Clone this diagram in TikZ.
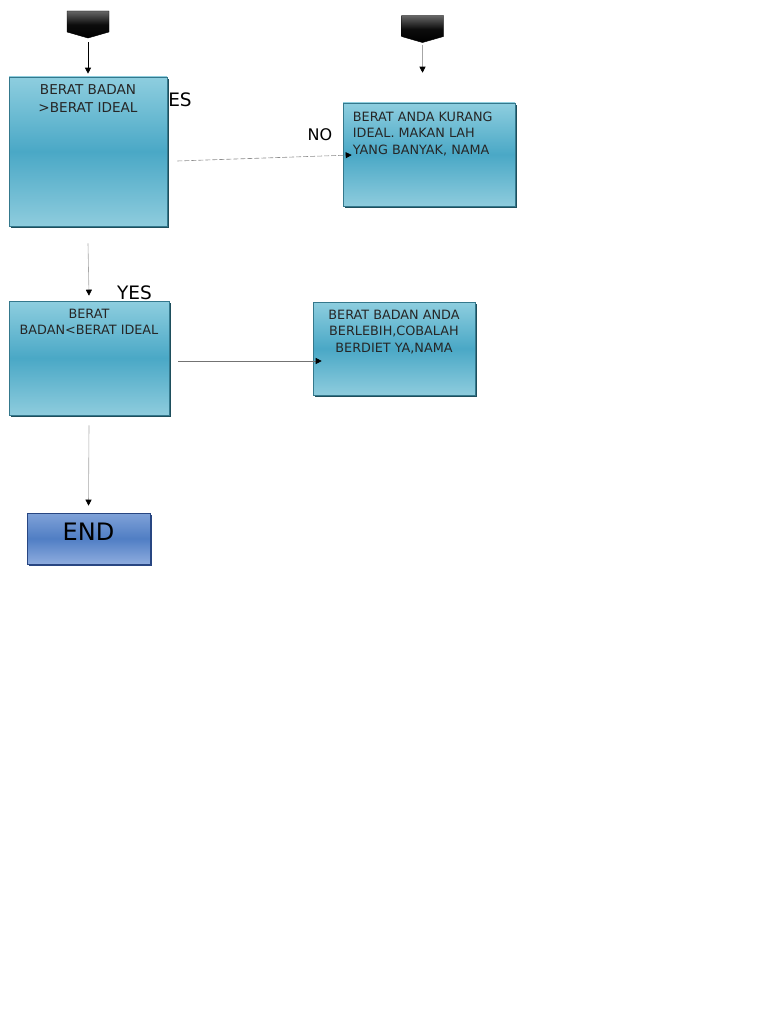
\documentclass[tikz,border=0pt]{standalone}
\usepackage{fontspec}
\setmainfont{DejaVu Sans}
\usetikzlibrary{arrows.meta, positioning, shadows, shapes.symbols}

\definecolor{boxtop}{RGB}{142,206,223}
\definecolor{boxmid}{RGB}{74,168,198}
\definecolor{boxbot}{RGB}{142,204,221}
\definecolor{boxline}{RGB}{52,120,140}
\definecolor{boxshade}{RGB}{30,78,92}
\definecolor{endtop}{RGB}{128,162,216}
\definecolor{endmid}{RGB}{80,126,196}
\definecolor{endbot}{RGB}{142,172,222}
\definecolor{endline}{RGB}{40,70,130}

\tikzset{
	flowbox/.style={draw=boxline, line width=0.6pt, inner sep=0pt,
		top color=boxtop, bottom color=boxbot, middle color=boxmid,
		drop shadow={shadow xshift=1.8pt, shadow yshift=-1.8pt, opacity=1, fill=boxshade}},
	endbox/.style={flowbox, draw=endline, top color=endtop, bottom color=endbot, middle color=endmid,
		drop shadow={shadow xshift=1.8pt, shadow yshift=-1.8pt, opacity=1, fill=endline}},
	offpage/.style={shape=signal, signal to=south, signal pointer angle=148, draw=black, line width=0.4pt,
		top color=black!60, bottom color=black, middle color=black!95,
		minimum width=42pt, minimum height=21pt, inner sep=0pt},
	boxtext/.style={inner sep=0pt, align=center, font=\fontsize{12.8}{16.5}\selectfont, text=black!85},
	lbl/.style={inner sep=0pt, font=\fontsize{18.5}{20}\selectfont},
	tip/.style={-{Triangle[color=black,length=6pt,width=6pt]}},
	greyline/.style={tip, draw=black!35, line width=0.6pt}
}

\begin{document}
\begin{tikzpicture}[x=1pt,y=-1pt]
	\useasboundingbox (0,0) rectangle (768,1024);

	%connectors
	\node[offpage] (start1) at (88,21.5) {};
	\node[offpage] (start2) at (422.5,26) {};

	%boxes
	\node[flowbox, minimum width=158pt, minimum height=149pt] (lebih) at (88,151.5) {};
	\node[flowbox, minimum width=172pt, minimum height=103pt] (msgKurang) at (429,154.5) {};
	\node[flowbox, minimum width=160pt, minimum height=114pt] (kurang) at (89,358) {};
	\node[flowbox, minimum width=162pt, minimum height=93pt] (msgLebih) at (394,348.5) {};
	\node[endbox, minimum width=123pt, minimum height=51pt, text depth=13pt, font=\fontsize{24}{26}\selectfont] (selesai) at (88.5,538.5) {END};

	%box texts
	\node[boxtext, anchor=north, font=\fontsize{13.6}{18}\selectfont] (tLebih) at ([yshift=-8pt]lebih.north) {BERAT BADAN\\>BERAT IDEAL};
	\node[boxtext, anchor=north west, align=left] (tMsgKurang) at ([xshift=10pt,yshift=-8.7pt]msgKurang.north west) {BERAT ANDA KURANG\\IDEAL. MAKAN LAH\\YANG BANYAK, NAMA};
	\node[boxtext, anchor=north] (tKurang) at ([yshift=-8pt]kurang.north) {BERAT\\BADAN<BERAT IDEAL};
	\node[boxtext, anchor=north] (tMsgLebih) at ([yshift=-8pt]msgLebih.north) {BERAT BADAN ANDA\\BERLEBIH,COBALAH\\BERDIET YA,NAMA};

	%arrows
	\draw[tip, line width=0.8pt] ([yshift=-4pt]start1.south) -- ([yshift=3pt]lebih.north);
	\draw[greyline] ([yshift=-2pt]start2.south) -- ++(0,28);
	\draw[greyline, draw=black!45, dash pattern=on 5pt off 2pt] ([xshift=10pt,yshift=-9.5pt]lebih.east) -- ([xshift=9pt,yshift=-0.5pt]msgKurang.west);
	\draw[greyline] ([yshift=-17pt]lebih.south) -- ([yshift=5pt]kurang.north);
	\draw[greyline, draw=black!55] ([xshift=9pt,yshift=-3pt]kurang.east) -- ([xshift=9pt,yshift=-12.5pt]msgLebih.west);
	\draw[greyline] ([yshift=-10pt]kurang.south) -- ([yshift=7pt]selesai.north);

	%labels
	\node[lbl] (yes1) at (180,99.5) {ES};
	\node[lbl, font=\fontsize{16}{18}\selectfont] (no1) at (320,135) {NO};
	\node[lbl] (yes2) at (134.5,292.5) {YES};
\end{tikzpicture}
\end{document}
